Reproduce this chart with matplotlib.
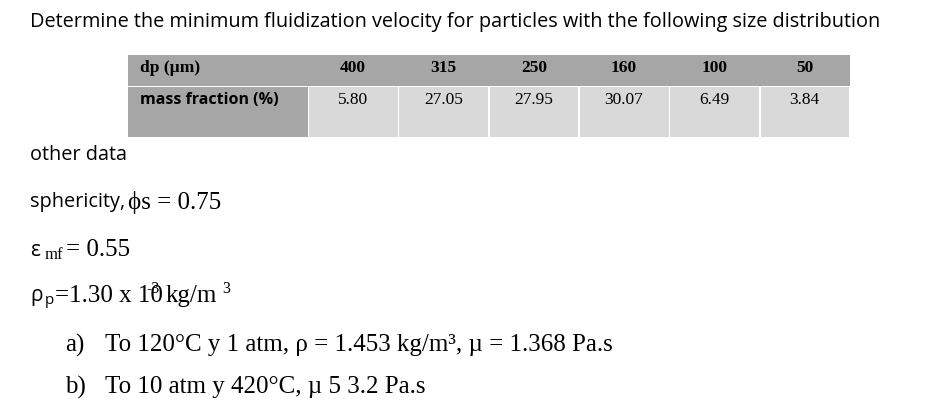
import matplotlib
matplotlib.use("Agg")
import matplotlib.pyplot as plt
from matplotlib.patches import Rectangle

title = "Determine the minimum fluidization velocity for particles with the following size distribution"
row_labels = ["dp (µm)", "mass fraction (%)"]
dp = ["400", "315", "250", "160", "100", "50"]
mass = ["5.80", "27.05", "27.95", "30.07", "6.49", "3.84"]

SANS = ["Open Sans", "DejaVu Sans"]
SERIF = ["Liberation Serif", "DejaVu Serif"]

fig = plt.figure(figsize=(9.33, 4.09), dpi=100)
ax = fig.add_axes([0, 0, 1, 1])
ax.set_xlim(0, 933); ax.set_ylim(409, 0); ax.axis("off")

ax.text(30, 22, title, family=SANS, fontsize=14.3, va="center", ha="left")

dark, light = "#a6a6a6", "#d9d9d9"
x0, x1, colw = 128, 308, 90.3
ax.add_patch(Rectangle((x0, 55), 850 - x0, 31, color=dark, lw=0))
ax.add_patch(Rectangle((x0, 87), x1 - x0, 50, color=dark, lw=0))
for i in range(len(dp)):
    xl = x1 + 1 + i * colw
    ax.add_patch(Rectangle((xl, 87), colw - 1.5, 50, color=light, lw=0))
    xc = xl + colw / 2 - 1
    ax.text(xc, 68, dp[i], family=SERIF, weight="bold", fontsize=12.5, ha="center", va="center")
    ax.text(xc, 100, mass[i], family=SERIF, fontsize=12.5, ha="center", va="center")
ax.text(140, 68, "dp (µm)", family=SERIF, weight="bold", fontsize=12.5, va="center")
ax.text(140, 100, "mass fraction (%)", family=SANS, weight="bold", fontsize=11.5, va="center")

ax.text(30, 155, "other data", family=SANS, fontsize=14.3, va="center")
ax.text(30, 202, "sphericity,", family=SANS, fontsize=14.3, va="center")
ax.text(128, 202, "ϕs = 0.75", family=SERIF, fontsize=18, va="center")
ax.text(30, 250, "ε", family=SANS, fontsize=15, va="center")
ax.text(45, 255, "mf", family=SERIF, fontsize=12, va="center")
ax.text(66, 250, "= 0.55", family=SERIF, fontsize=18, va="center")
ax.text(30, 296, "ρ", family=SANS, fontsize=15, va="center")
ax.text(45, 301, "p", family=SANS, fontsize=11, va="center")
ax.text(55, 296, "=1.30 x 10", family=SERIF, fontsize=18, va="center")
ax.text(146, 289, "-3", family=SERIF, fontsize=11.5, va="center")
ax.text(166, 296, "kg/m", family=SERIF, fontsize=18, va="center")
ax.text(222, 289, "3", family=SERIF, fontsize=11.5, va="center")

ax.text(65, 345, "a)", family=SERIF, fontsize=18, va="center")
ax.text(105, 345, "To 120°C y 1 atm, ρ = 1.453 kg/m³, µ = 1.368 Pa.s", family=SERIF, fontsize=18, va="center")
ax.text(65, 387, "b)", family=SERIF, fontsize=18, va="center")
ax.text(105, 387, "To 10 atm y 420°C, µ 5 3.2 Pa.s", family=SERIF, fontsize=18, va="center")

fig.savefig("out.png", dpi=100)
